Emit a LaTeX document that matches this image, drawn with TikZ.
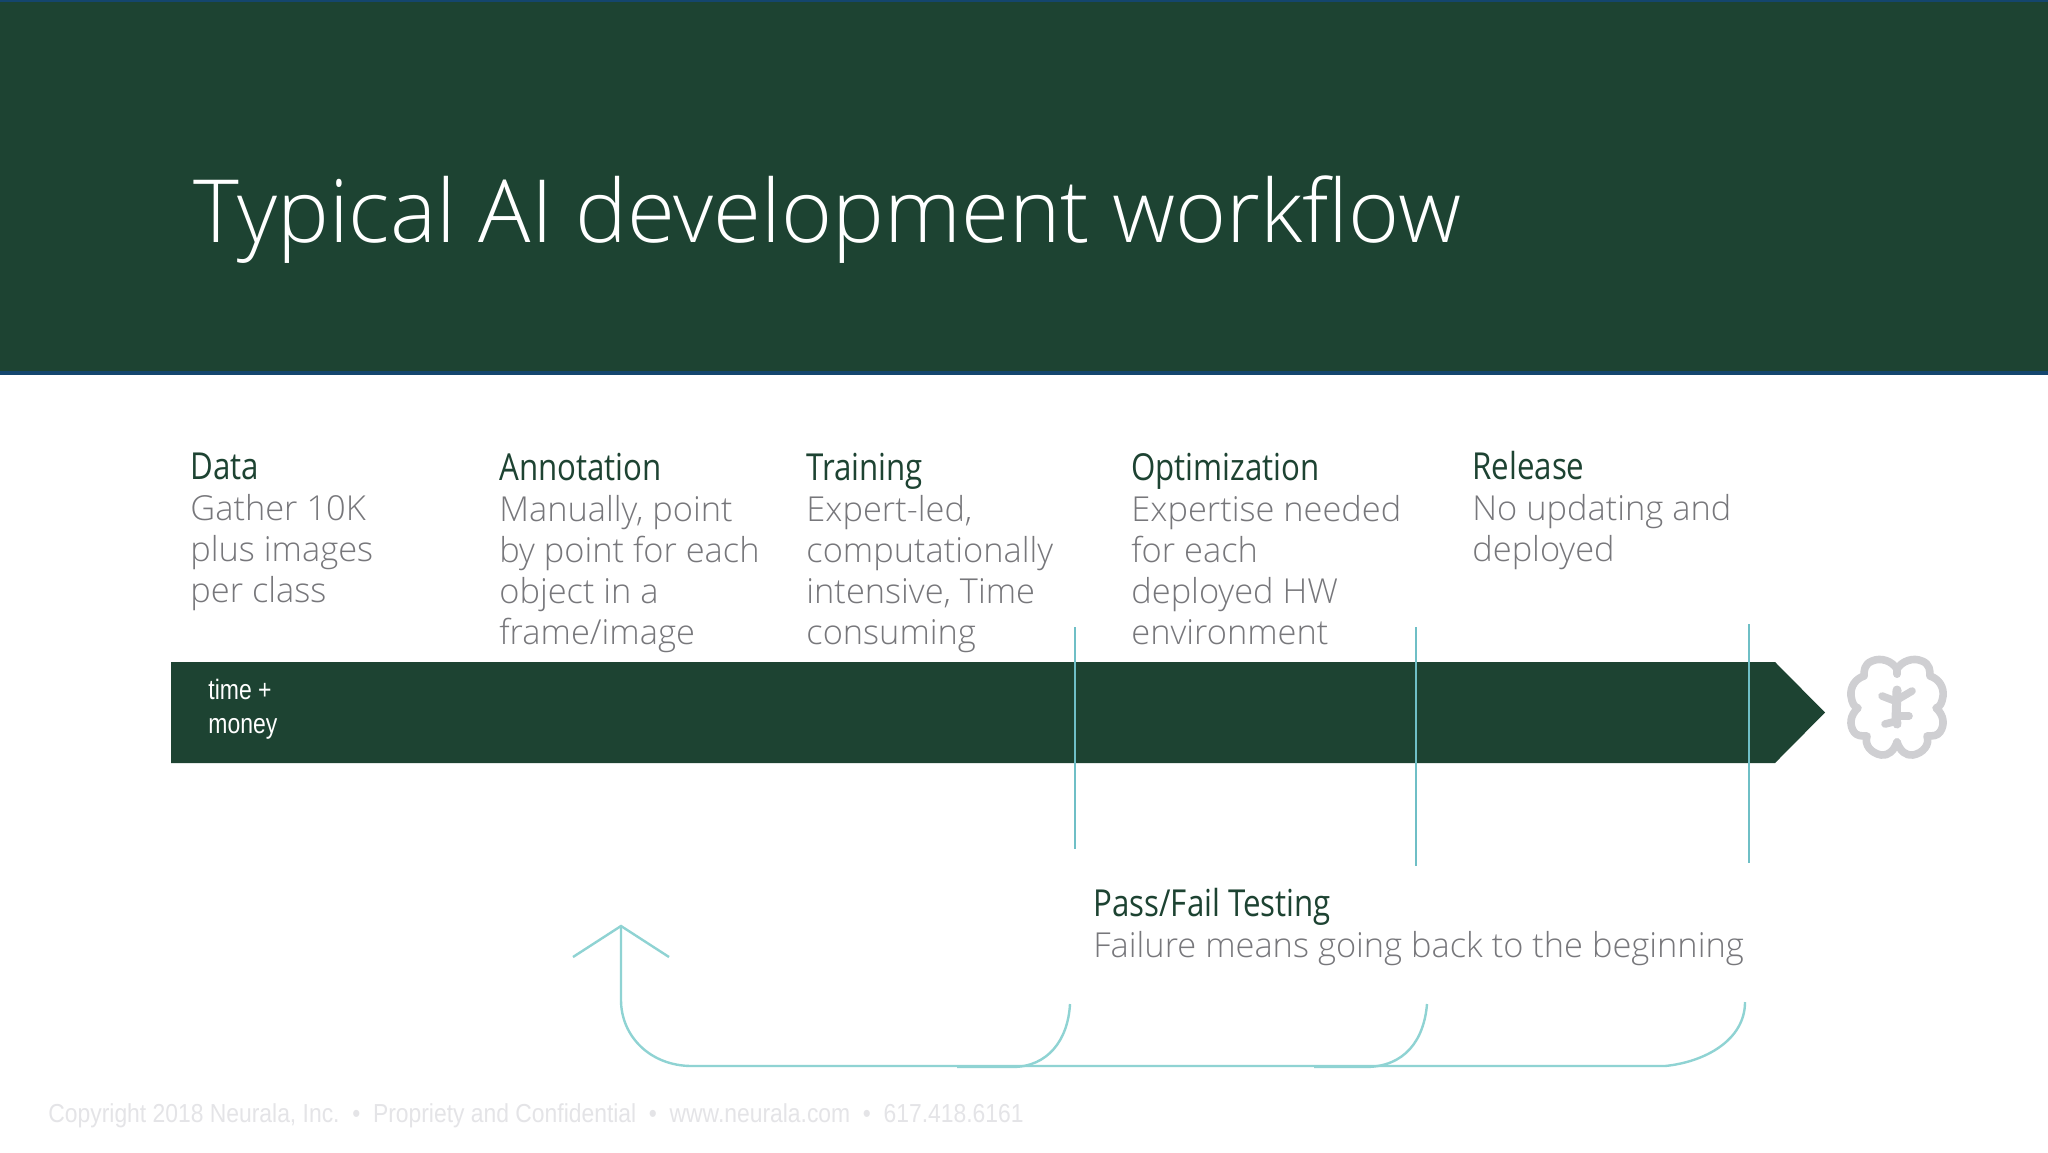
\documentclass[tikz,border=0pt]{standalone}
\usepackage{fontspec}
\setmainfont{Open Sans}
\newfontfamily\lightfont{Open Sans Light}
\newfontfamily\headfont[FakeStretch=0.84]{Open Sans}
\newfontfamily\armfont[FakeStretch=0.82]{Liberation Sans}
\newfontfamily\footfont[FakeStretch=0.88]{Liberation Sans}
\definecolor{bandgreen}{HTML}{1D4332}
\definecolor{bandblue}{HTML}{14466E}
\definecolor{bodygray}{HTML}{77777B}
\definecolor{loopteal}{HTML}{8FD3D3}
\definecolor{tickteal}{HTML}{6FBFC6}
\definecolor{brainc}{HTML}{CFCFD2}
\definecolor{footc}{HTML}{E4E4E7}
\tikzset{
    stage/.style={anchor=north west,inner sep=0pt,align=left,text=bodygray,font=\lightfont\fontsize{17.2}{20.5}\selectfont},
    tick/.style={tickteal,line width=0.8pt},
    back/.style={loopteal,line width=1.2pt},
    brain/.style={brainc,line width=3.8pt,line cap=round,line join=round}
}
\newcommand{\stagehead}[1]{{\headfont\fontsize{18.6}{20.5}\selectfont\color{bandgreen}#1}}
\begin{document}
\begin{tikzpicture}[x=0.5pt,y=-0.5pt]
    \useasboundingbox (0,0) rectangle (2048,1152);
    \fill[white] (0,0) rectangle (2048,1152);
    \fill[bandgreen] (0,0) rectangle (2048,375);
    \fill[bandblue] (0,0) rectangle (2048,2);
    \fill[bandblue] (0,371) rectangle (2048,375);
    \node[anchor=base west,inner sep=0pt,text=white,font=\lightfont\fontsize{43.6}{50}\selectfont] (title) at (193,242) {Typical AI development workflow};
    \node[stage] (data) at (190,453) {\stagehead{Data}\\Gather 10K\\plus images\\per class};
    \node[stage] (annotation) at (499,453) {\stagehead{Annotation}\\Manually, point\\by point for each\\object in a\\frame/image};
    \node[stage] (training) at (806,453) {\stagehead{Training}\\Expert-led,\\computationally\\intensive, Time\\consuming};
    \node[stage] (optimization) at (1131,453) {\stagehead{Optimization}\\Expertise needed\\for each\\deployed HW\\environment};
    \node[stage] (release) at (1472,451) {\stagehead{Release}\\No updating and\\deployed};
    \fill[bandgreen] (171,662) -- (1775,662) -- (1825,712.5) -- (1775,763) -- (171,763) -- cycle;
    \node[anchor=north west,inner sep=0pt,align=left,text=white,font=\armfont\fontsize{14}{17}\selectfont] (cost) at (208,679) {time +\\money};
    \coordinate (t1a) at (1075,627);
    \coordinate (t1b) at (1075,849);
    \coordinate (t2a) at (1416,627);
    \coordinate (t2b) at (1416,866);
    \coordinate (t3a) at (1749,624);
    \coordinate (t3b) at (1749,863);
    \draw[tick] (t1a) -- (t1b);
    \draw[tick] (t2a) -- (t2b);
    \draw[tick] (t3a) -- (t3b);
    \node[stage] (testing) at (1093,888) {\stagehead{Pass/Fail Testing}\\Failure means going back to the beginning};
    \coordinate (tip) at (621,926);
    \coordinate (wingl) at (573,957);
    \coordinate (wingr) at (669,957);
    \coordinate (c1) at (1070,1004);
    \coordinate (c2) at (1427,1004);
    \coordinate (c3) at (1745,1002);
    \draw[back] (wingl) -- (tip) -- (wingr);
    \draw[back] (tip) -- (621,1000) .. controls (621,1036) and (650,1066) .. (692,1066) -- (1665,1066) .. controls (1705,1062) and (1745,1040) .. (c3);
    \draw[back] (c1) .. controls (1068,1040) and (1048,1067) .. (1012,1067) -- (957,1067);
    \draw[back] (c2) .. controls (1424,1040) and (1405,1067) .. (1365,1067) -- (1314,1067);
    \begin{scope}[shift={(1897,707)}]
        \foreach \s in {1,-1} {
            \draw[brain,xscale=\s] (0,-33) -- (0,-38) .. controls (-5,-46) and (-16,-50) .. (-25,-46) .. controls (-33,-43) and (-33,-36) .. (-33,-31) .. controls (-42,-28) and (-47,-20) .. (-46,-11) .. controls (-45,-4) and (-43,0) .. (-39,1) .. controls (-47,8) and (-48,18) .. (-43,25) .. controls (-40,29) and (-36,29) .. (-30,29) .. controls (-33,38) and (-26,46) .. (-16,48) .. controls (-9,49) and (-3,44) .. (0,35);
        }
        \draw[brain,line width=4.5pt] (0,-17) -- (-1,12) -- (0,17);
        \draw[brain] (-15,-11) -- (-2,-6) -- (15,-16);
        \draw[brain] (-12,17) -- (0,14);
        \draw[brain] (0,9) -- (12,9);
    \end{scope}
    \node[anchor=base west,inner sep=0pt,text=footc,font=\footfont\fontsize{13}{15}\selectfont] (footer) at (48,1122) {Copyright 2018 Neurala, Inc.\ \ •\ \ Propriety and Confidential\ \ •\ \ www.neurala.com\ \ •\ \ 617.418.6161};
\end{tikzpicture}
\end{document}
